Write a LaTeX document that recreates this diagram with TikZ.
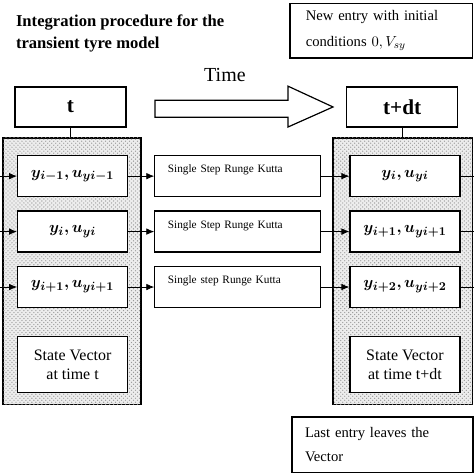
\documentclass[tikz,border=0pt]{standalone}
\usepackage{fontspec}
\setmainfont{Liberation Serif}
\usepackage{amsmath, bm}
\usetikzlibrary{arrows.meta, calc, positioning, patterns}

\tikzset{
    box/.style={draw, line width=0.9pt, fill=white},
    vecbox/.style={draw, line width=0.9pt, fill=black!7, postaction={pattern=crosshatch dots, pattern color=black!40}},
    entry/.style={box, minimum width=2.91cm, minimum height=1.085cm, font=\fontsize{12.5}{15}\selectfont},
    rkbox/.style={box, minimum width=4.39cm, minimum height=1.085cm, text width=3.7cm, align=left, text height=6pt, text depth=0.38cm, font=\fontsize{8.5}{10}\selectfont},
    note/.style={box, align=left, font=\fontsize{11}{19}\selectfont}
}

\begin{document}
\begin{tikzpicture}[auto, node distance=0.35cm, >={Latex[length=6pt, width=5pt]}]
    \useasboundingbox (0,0) rectangle (12.54,-12.54);

    % Title and the two notes
    \node [anchor=west, align=left, font=\bfseries\fontsize{12.5}{17}\selectfont] (title) at (0.3,-0.89) {Integration procedure for the\\ transient tyre model};
    \node [note, minimum width=4.84cm, minimum height=1.45cm, text width=4.0cm] (newentry) at (10.09,-0.81) {New entry with initial\\ conditions $0,V_{sy}$};
    \node [note, minimum width=4.79cm, minimum height=1.46cm, text width=4.1cm, font=\fontsize{11}{18}\selectfont] (lastentry) at (10.12,-11.76) {Last entry leaves the\\ Vector};

    % Time steps and the big hollow arrow
    \node [font=\fontsize{15}{18}\selectfont] (timelbl) at (5.95,-1.98) {Time};
    \node [box, minimum width=2.94cm, minimum height=1.06cm, font=\bfseries\fontsize{16}{18}\selectfont] (tnow) at (1.865,-2.83) {t};
    \node [box, minimum width=2.94cm, minimum height=1.06cm, font=\bfseries\fontsize{16}{18}\selectfont] (tnext) at (10.64,-2.83) {t+dt};
    \draw [line width=0.9pt] (4.10,-2.65) -- (7.62,-2.65) -- (7.62,-2.28) -- (8.81,-2.83) -- (7.62,-3.36) -- (7.62,-3.10) -- (4.10,-3.10) -- cycle;

    % State vectors (shaded frames)
    \node [vecbox, minimum width=3.65cm, minimum height=7.06cm] (leftvec) at (1.905,-7.18) {};
    \node [vecbox, minimum width=3.68cm, minimum height=7.06cm] (rightvec) at (10.65,-7.18) {};
    \draw [semithick] (tnow.south) -- (tnow.south |- leftvec.north);
    \draw [semithick] (tnext.south) -- (tnext.south |- rightvec.north);

    % Entries at time t
    \node [entry] (lone) at (1.92,-4.66) {$\bm{y_{i-1},u_{yi-1}}$};
    \node [entry, below=of lone] (ltwo) {$\bm{y_{i},u_{yi}}$};
    \node [entry, below=of ltwo] (lthree) {$\bm{y_{i+1},u_{yi+1}}$};
    \node [entry, minimum height=1.48cm, below=0.74cm of lthree, align=center, font=\fontsize{12}{14}\selectfont] (lstate) {State Vector\\ at time t};

    % Runge Kutta steps
    \node [rkbox, right=0.69cm of lone] (rkone) {Single Step Runge Kutta};
    \node [rkbox, right=0.69cm of ltwo] (rktwo) {Single Step Runge Kutta};
    \node [rkbox, right=0.69cm of lthree] (rkthree) {Single step Runge Kutta};

    % Entries at time t+dt
    \node [entry, right=0.74cm of rkone] (rone) {$\bm{y_{i},u_{yi}}$};
    \node [entry, right=0.74cm of rktwo] (rtwo) {$\bm{y_{i+1},u_{yi+1}}$};
    \node [entry, right=0.74cm of rkthree] (rthree) {$\bm{y_{i+2},u_{yi+2}}$};
    \node [entry, minimum height=1.48cm, below=0.74cm of rthree, align=center, font=\fontsize{12}{14}\selectfont] (rstate) {State Vector\\ at time t+dt};

    % Connections
    \foreach \row in {one, two, three} {
        \coordinate (in\row) at ($(l\row.west) + (-0.45, 0)$);
        \coordinate (out\row) at ($(r\row.east) + (0.42, 0)$);
        \draw [->, semithick] (in\row) -- (l\row.west);
        \draw [->, semithick] (l\row.east) -- (rk\row.west);
        \draw [->, semithick] (rk\row.east) -- (r\row.west);
        \draw [semithick] (r\row.east) -- (out\row);
    }

\end{tikzpicture}
\end{document}
